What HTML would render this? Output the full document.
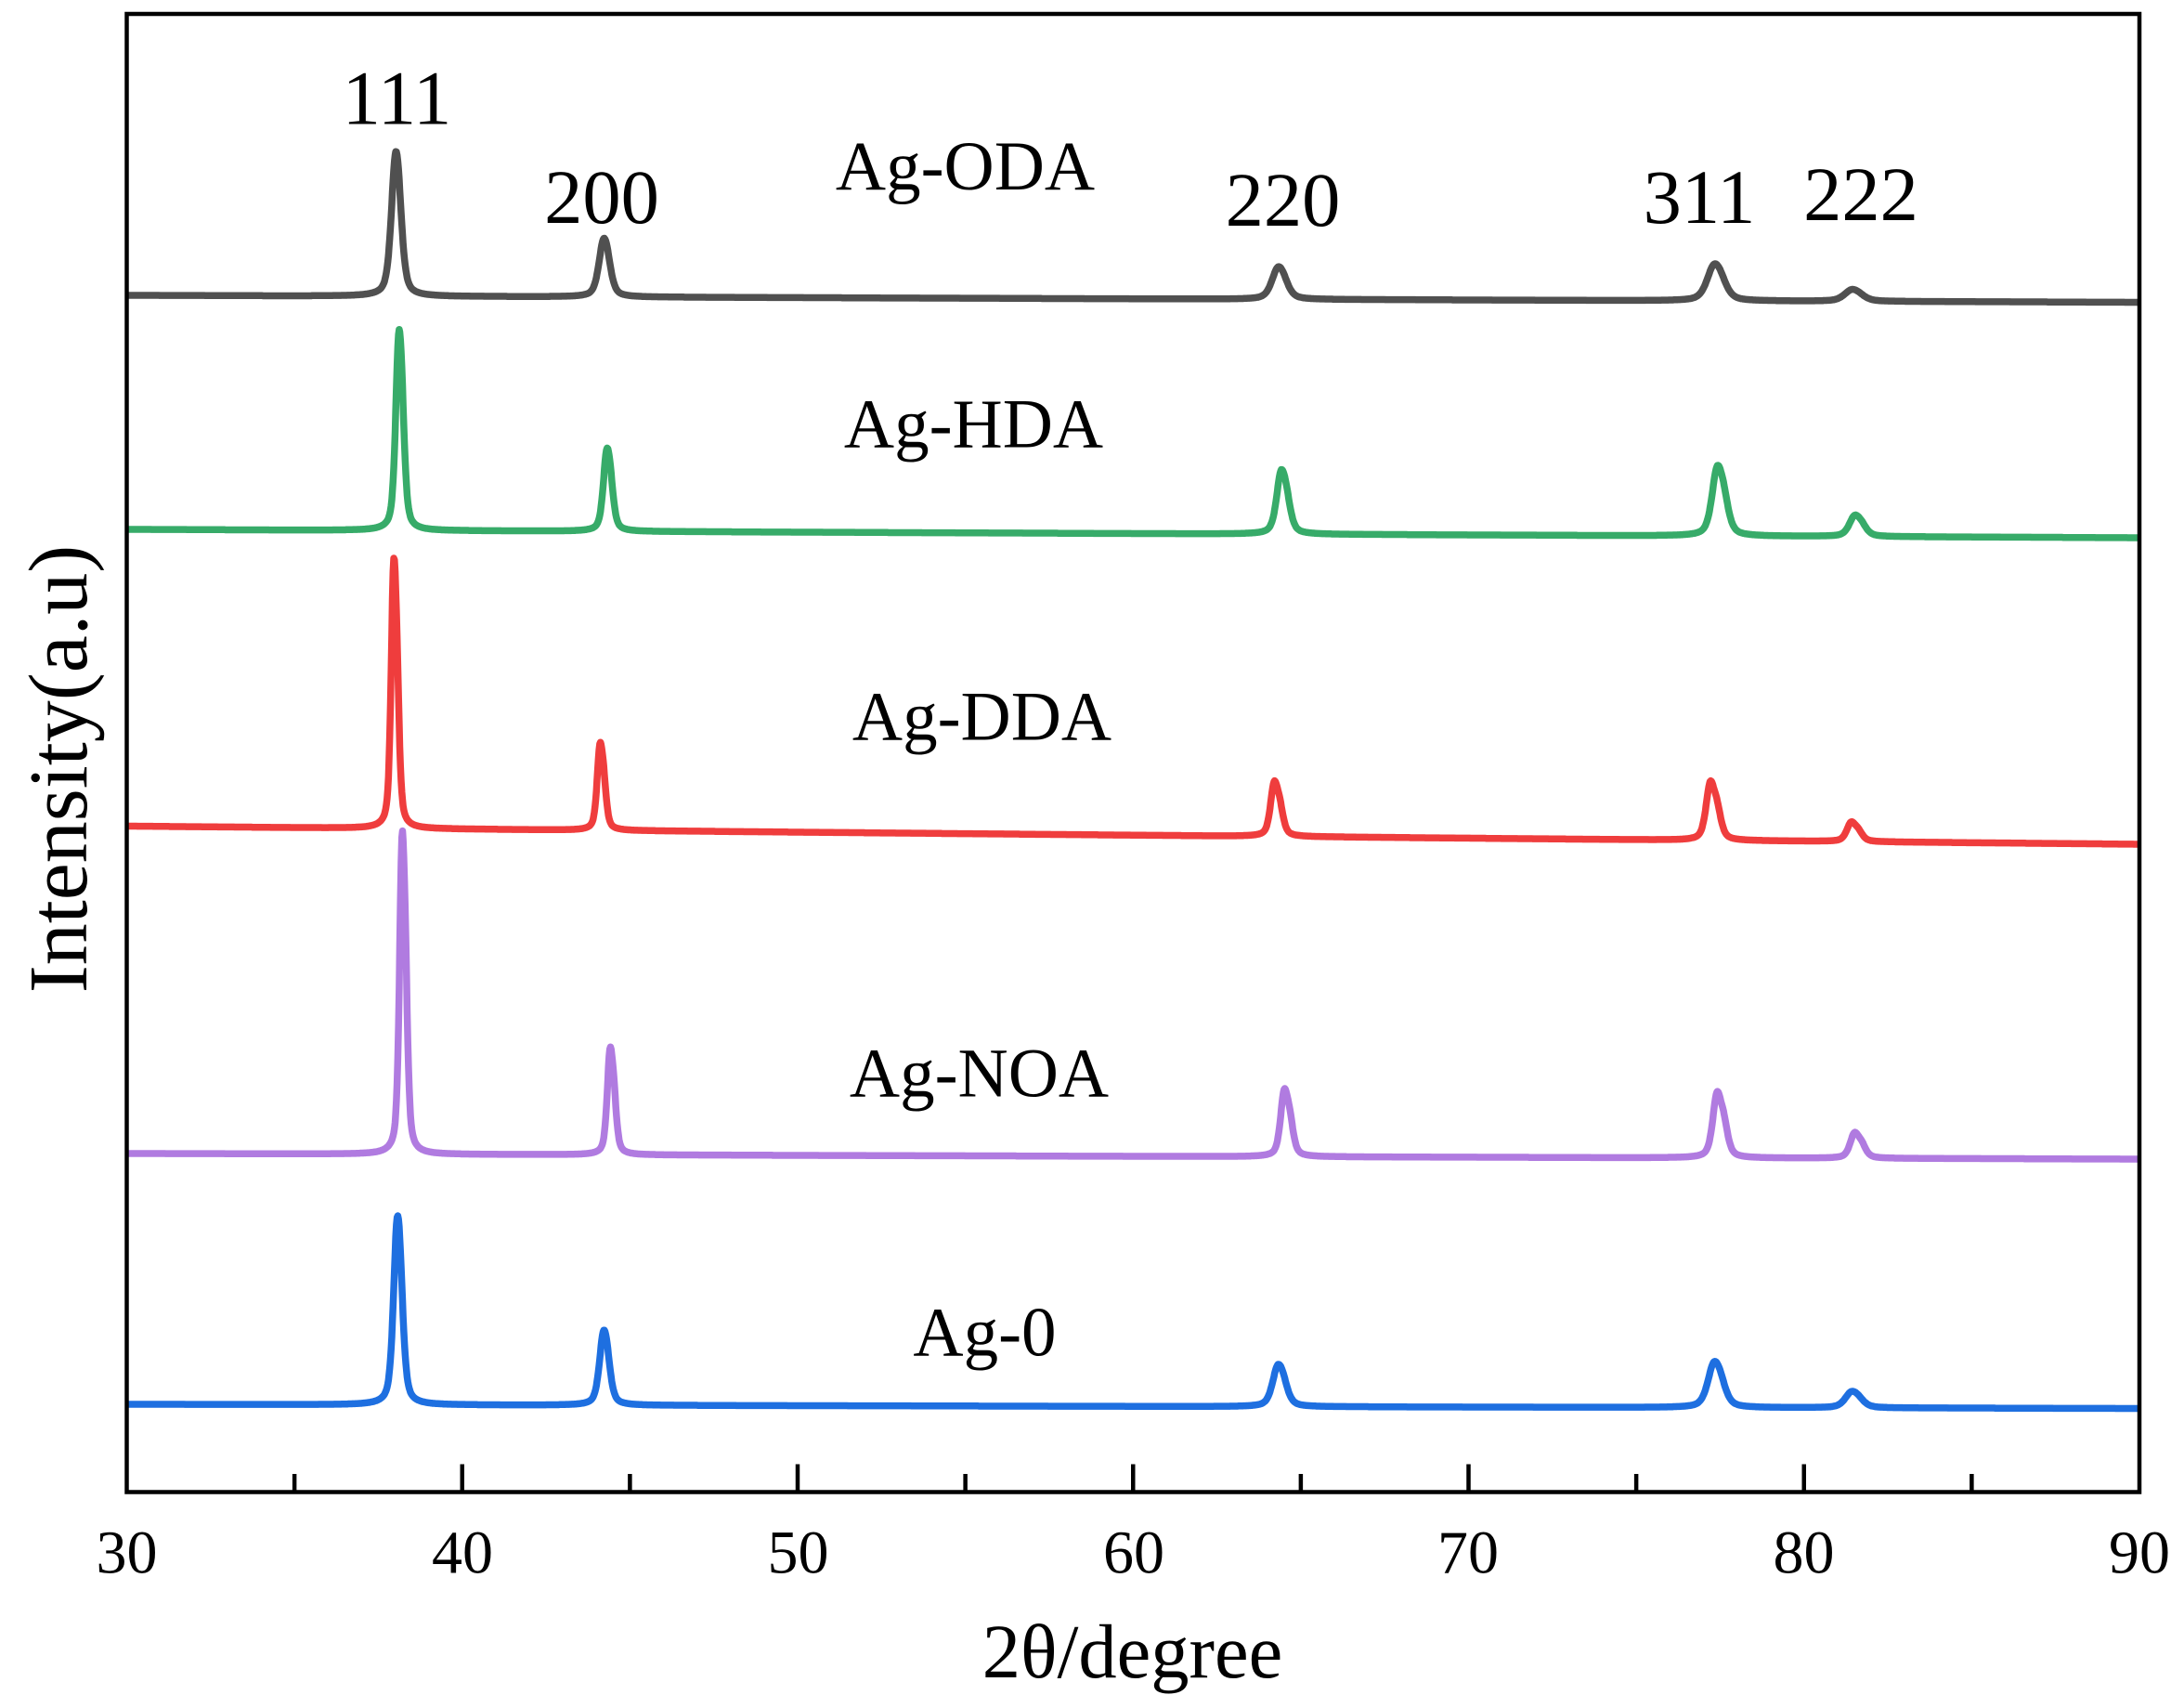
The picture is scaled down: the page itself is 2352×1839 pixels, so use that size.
<!DOCTYPE html>
<html><head><meta charset="utf-8">
<style>html,body{margin:0;padding:0;background:#fff;}svg{display:block;}</style>
</head><body>
<svg id="s" width="2352" height="1839" viewBox="0 0 1568 1226" xmlns="http://www.w3.org/2000/svg" font-family="'Liberation Serif', serif">
<rect width="1568" height="1226" fill="#fff"/>
<g id="curves" fill="none" stroke-width="5" stroke-linejoin="round"></g>
<rect x="91" y="10" width="1445" height="1061" fill="none" stroke="#000" stroke-width="3"/>
<g id="ticks" stroke="#000" stroke-width="3"></g>
<g font-size="44" text-anchor="middle" fill="#000">
<text x="91" y="1129">30</text><text x="332" y="1129">40</text><text x="573" y="1129">50</text>
<text x="814" y="1129">60</text><text x="1054" y="1129">70</text><text x="1295" y="1129">80</text><text x="1536" y="1129">90</text>
</g>
<text x="813" y="1204" font-size="55" text-anchor="middle">2θ/degree</text>
<text transform="translate(62,552) rotate(-90)" font-size="60" text-anchor="middle">Intensity(a.u)</text>
<g font-size="55" text-anchor="middle">
<text x="285" y="89">111</text><text x="432" y="160">200</text><text x="921" y="162">220</text>
<text x="1220" y="160">311</text><text x="1336" y="158">222</text>
</g>
<g font-size="50" text-anchor="middle">
<text x="693" y="136">Ag-ODA</text><text x="699" y="321">Ag-HDA</text><text x="705" y="531">Ag-DDA</text>
<text x="703" y="787">Ag-NOA</text><text x="707" y="973">Ag-0</text>
</g>
</svg>
<script>
(function(){
var X=function(d){return 91+(d-30)*(1445/60);};
var t=document.getElementById('ticks'),h='';
for(var d=35;d<90;d+=5){var x=X(d);var L=(d%10==0)?20:13;h+='<line x1="'+x+'" y1="1071" x2="'+x+'" y2="'+(1071-L)+'"/>';}
t.innerHTML=h;
var series=[
 {c:'#505050',b0:212,b1:217,w:0.15,pk:[[38.0,111],[44.2,172],[64.3,192],[77.3,190],[81.4,208]]},
 {c:'#37ab69',b0:380,b1:386,w:0.11,pk:[[38.1,240],[44.3,323],[64.4,338],[77.4,335],[81.5,370]]},
 {c:'#ef3d3d',b0:593,b1:606,w:0.09,pk:[[37.95,404],[44.1,534],[64.2,561],[77.2,561],[81.4,590]]},
 {c:'#b07be0',b0:828,b1:832,w:0.09,pk:[[38.2,601],[44.4,753],[64.5,782],[77.4,784],[81.5,813]]},
 {c:'#1e6fe0',b0:1008,b1:1011,w:0.13,pk:[[38.05,876],[44.2,956],[64.3,980],[77.3,978],[81.4,999]]}
];
var g=document.getElementById('curves'),out='';
series.forEach(function(s){
  var pts=[];
  function base(d){return s.b0+(s.b1-s.b0)*(d-30)/60;}
  function prof(d,c,w){var u=(d-c)/w;return 0.5/(1+u*u)+0.5*Math.exp(-0.693*u*u);}
  for(var d=30;d<=90.001;d+=0.02){
    var y=base(d),sum=0;
    s.pk.forEach(function(p){
      var c=p[0],H=base(c)-p[1];
      var sh=c*0.0027;
      var w=s.w*(1+(c-38)/60);
      var A=H/(1+0.5*prof(c,c+sh,w));
      sum+=A*(prof(d,c,w)+0.5*prof(d,c+sh,w));
    });
    pts.push(X(d).toFixed(1)+','+(y-sum).toFixed(1));
  }
  out+='<polyline stroke="'+s.c+'" points="'+pts.join(' ')+'"/>';
});
g.innerHTML=out;
})();
</script>
</body></html>
